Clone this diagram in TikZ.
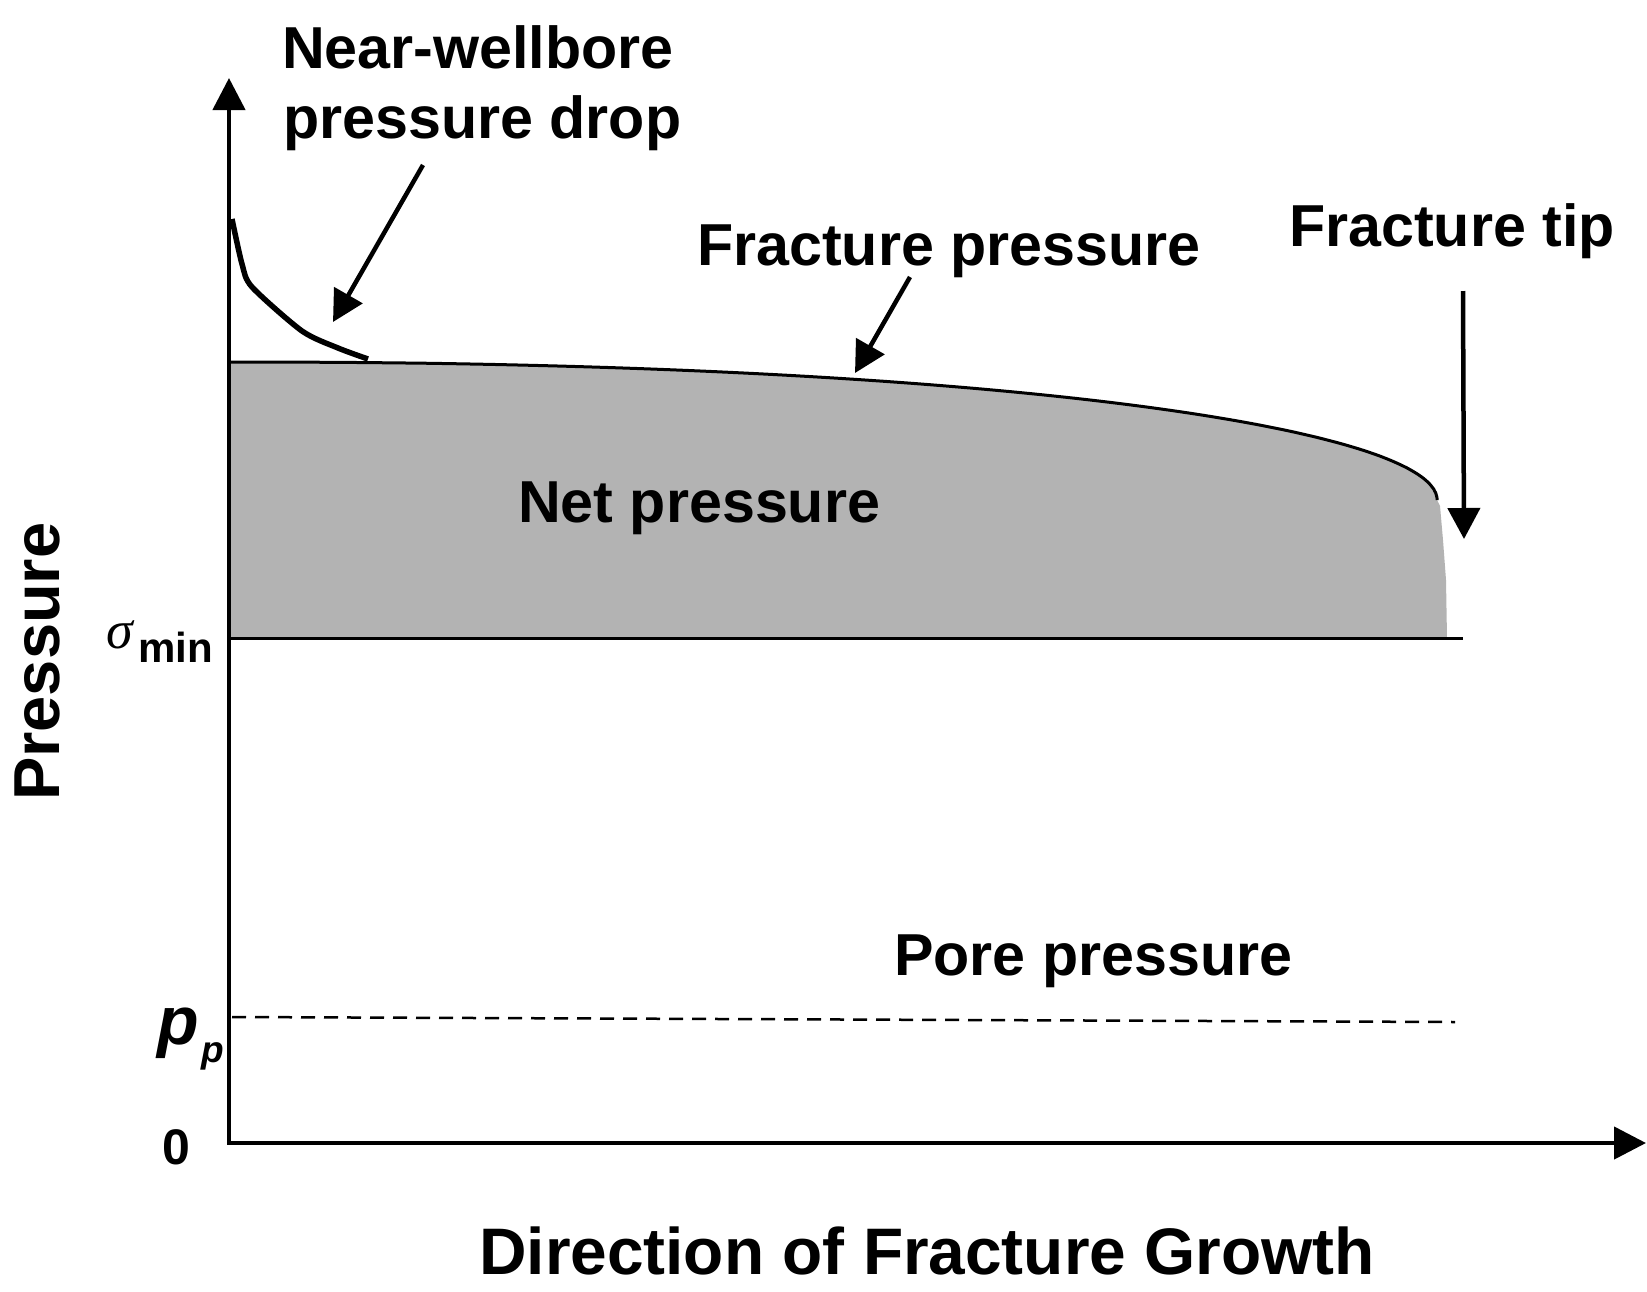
\documentclass[tikz,border=0pt]{standalone}
\usepackage{fontspec}
\setmainfont{Liberation Sans}
\newfontfamily\sigfont{Liberation Serif}
\usetikzlibrary{arrows.meta}
\definecolor{netgray}{RGB}{179,179,179}
\begin{document}
\begin{tikzpicture}[x=1pt,y=-1pt,
  lbl/.style={font=\bfseries\fontsize{59.2}{70}\selectfont, inner sep=0pt, anchor=base west},
  axlbl/.style={font=\bfseries\fontsize{65.8}{78}\selectfont, inner sep=0pt, anchor=base west},
  ptr/.style={line width=4.5pt, -{Triangle[length=31pt,width=32pt]}},
  axis/.style={line width=4.5pt, line join=miter},
  curve/.style={line width=3pt},
  ]
\useasboundingbox (0,0) rectangle (1647,1291);
% net pressure area
\fill[netgray] (229,638) -- (229,362) -- plot[domain=0.5:90, samples=120, variable=\t] ({229+1208*pow(sin(\t),0.90909)}, {500-138*cos(\t)})
  -- (1440,506) -- (1443,540) -- (1446,580) -- (1447,638) -- cycle;
% fracture pressure curve
\draw[curve] (229,362) -- plot[domain=0.5:90, samples=120, variable=\t] ({229+1208*pow(sin(\t),0.90909)}, {500-138*cos(\t)});
% sigma_min line
\coordinate (smL) at (229,638);
\coordinate (smR) at (1463,638);
\draw[line width=3pt] (smL) -- (smR);
% pore pressure line
\coordinate (ppL) at (232,1017);
\coordinate (ppR) at (1455,1022);
\draw[line width=2.5pt, dash pattern=on 14pt off 9pt] (ppL) -- (ppR);
% near-wellbore curve
\draw[line width=5.5pt] plot[smooth, tension=0.45] coordinates {(232,219) (242,264) (252,287) (302,331) (338,348) (368,359)};
% axes
\coordinate (ytop) at (229,78);
\coordinate (O) at (229,1143);
\coordinate (xend) at (1646,1143);
\draw[axis, {Triangle[length=32pt,width=32pt]}-{Triangle[length=32pt,width=32pt]}] (ytop) -- (O) -- (xend);
% labels
\node[lbl] (nw1) at (282,68) {Near-wellbore};
\node[lbl] (nw2) at (283,138) {pressure drop};
\node[lbl] (fp) at (697,265) {Fracture pressure};
\node[lbl] (ft) at (1289,246) {Fracture tip};
\node[lbl] (np) at (518,522) {Net pressure};
\node[lbl] (pp) at (894,975) {Pore pressure};
\node[axlbl] (dir) at (479,1274) {Direction of Fracture Growth};
\node[axlbl, font=\bfseries\fontsize{65}{76}\selectfont, rotate=90] (pr) at (59,801) {Pressure};
\node[inner sep=0pt, anchor=base west, font=\bfseries\fontsize{50}{60}\selectfont] (zero) at (162,1164) {0};
\node[inner sep=0pt, anchor=base west, font=\sigfont\itshape\fontsize{54}{60}\selectfont] (sig) at (106,648) {σ};
\node[inner sep=0pt, anchor=base west, font=\bfseries\fontsize{42}{48}\selectfont] (min) at (138,662) {min};
\node[inner sep=0pt, anchor=base west, font=\bfseries\itshape\fontsize{68}{74}\selectfont] (pbig) at (157,1044) {p};
\node[inner sep=0pt, anchor=base west, font=\bfseries\itshape\fontsize{37}{42}\selectfont] (psub) at (201,1062) {p};
% pointer arrows
\coordinate (nwS) at (423,165);
\coordinate (nwT) at (333,322);
\draw[ptr] (nwS) -- (nwT);
\coordinate (fpS) at (910,277);
\coordinate (fpT) at (855,373);
\draw[ptr] (fpS) -- (fpT);
\coordinate (ftS) at (1463,291);
\coordinate (ftT) at (1464,539);
\draw[ptr] (ftS) -- (ftT);
\end{tikzpicture}
\end{document}
